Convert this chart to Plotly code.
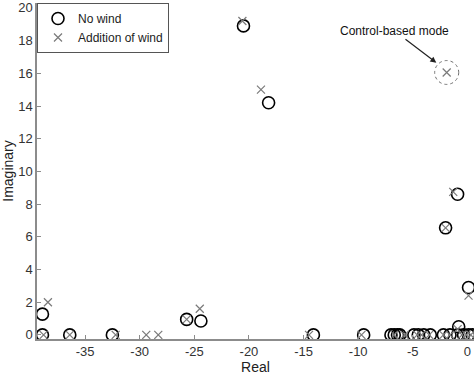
import plotly.graph_objects as go

# No wind eigenvalues
nw_real = [-38.9, -38.9, -36.4, -32.5, -25.7, -24.4, -20.5, -18.2, -14.1, -9.5,
           -7.0, -6.7, -6.4, -6.2, -4.9, -4.5, -4.0, -3.4, -2.2, -1.6, -0.9, -0.8,
           -0.35, 0.1, 0.45, -2.0, -0.9, 0.1]
nw_imag = [1.27, 0.0, 0.0, 0.0, 0.95, 0.85, 18.9, 14.2, 0.0, 0.0,
           0.0, 0.0, 0.0, 0.0, 0.0, 0.0, 0.0, 0.0, 0.0, 0.0, 0.0, 0.5,
           0.0, 0.0, 0.0, 6.55, 8.6, 2.9]

# Addition of wind eigenvalues
w_real = [-38.4, -38.8, -36.4, -32.2, -29.4, -28.3, -25.7, -24.5, -20.6, -18.9,
          -14.5, -9.7, -6.7, -5.75, -4.6, -4.2, -3.5, -2.2, -1.6, -0.9, -0.5,
          -0.1, 0.3, -2.0, -1.3, 0.1, -1.9]
w_imag = [2.0, 0.0, 0.0, 0.0, 0.0, 0.0, 0.95, 1.6, 19.2, 15.0,
          0.0, 0.0, 0.0, 0.0, 0.0, 0.0, 0.0, 0.0, 0.0, 0.35, 0.0,
          0.0, 0.0, 6.55, 8.75, 2.4, 16.05]

control_mode = (-1.9, 16.05)
x_ticks = [-35, -30, -25, -20, -15, -10, -5, 0]
y_ticks = [0, 2, 4, 6, 8, 10, 12, 14, 16, 18, 20]

FONT = "Liberation Sans, Arial, sans-serif"
AXC = "#8c8c8c"

fig = go.Figure()
fig.add_trace(go.Scatter(
    x=nw_real, y=nw_imag, mode="markers", name="No wind",
    marker=dict(symbol="circle-open", size=12, color="black",
                line=dict(width=1.6, color="black")),
))
fig.add_trace(go.Scatter(
    x=w_real, y=w_imag, mode="markers", name="Addition of wind",
    marker=dict(symbol="x-thin-open", size=8, color="#7a7a7a",
                line=dict(width=1.2, color="#7a7a7a")),
))

cx, cy = control_mode
rx, ry = 1.1, 0.73
fig.add_shape(type="circle", xref="x", yref="y",
              x0=cx - rx, x1=cx + rx, y0=cy - ry, y1=cy + ry,
              line=dict(color="#6e6e6e", width=1, dash="dot"))
fig.add_annotation(x=cx - 0.95, y=cy + 0.6, xref="x", yref="y",
                   text="Control-based mode", showarrow=True,
                   arrowhead=2, arrowsize=1, arrowwidth=1.2, arrowcolor="#222",
                   ax=-42, ay=-32,
                   font=dict(family=FONT, size=12, color="#111"))

fig.update_layout(
    width=474, height=378,
    margin=dict(l=37, r=0, t=0, b=39),
    paper_bgcolor="white", plot_bgcolor="white",
    font=dict(family=FONT, size=13, color="#333"),
    showlegend=True,
    legend=dict(x=0, y=1, xanchor="left", yanchor="top",
                bgcolor="white", bordercolor="#555", borderwidth=1,
                font=dict(family=FONT, size=12, color="#222"),
                tracegroupgap=0, itemwidth=30),
    xaxis=dict(range=[-39.4, 0.6], tickvals=x_ticks,
               ticktext=[str(v) for v in x_ticks],
               showgrid=False, zeroline=False, showline=True,
               linecolor=AXC, linewidth=1.5, ticks="inside", ticklen=4,
               tickcolor=AXC, tickfont=dict(size=13, color="#333"),
               ticklabeloverflow="allow",
               title=dict(text="Real", font=dict(size=14, color="#222"), standoff=4)),
    yaxis=dict(range=[-0.25, 20.3], tickvals=y_ticks,
               showgrid=False, zeroline=False, showline=True,
               linecolor=AXC, linewidth=1.5, ticks="inside", ticklen=4,
               tickcolor=AXC, tickfont=dict(size=13, color="#333"),
               ticklabeloverflow="allow",
               title=dict(text="Imaginary", font=dict(size=14, color="#222"), standoff=6)),
)

fig.write_html("out.html", config={"displayModeBar": False},
               post_script="document.body.style.margin='0';document.body.style.overflow='hidden';")
